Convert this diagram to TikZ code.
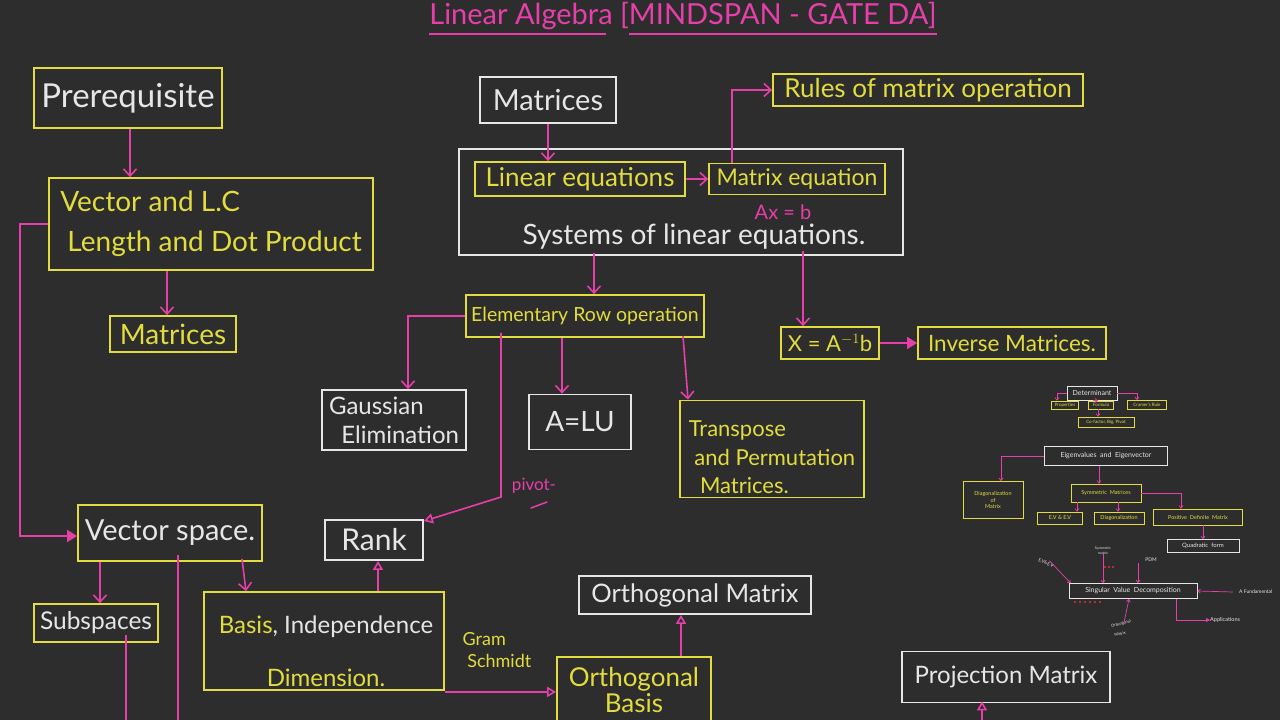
\documentclass[tikz,border=0pt]{standalone}
\usepackage{fontspec}
\setmainfont{Lato}
\usetikzlibrary{arrows.meta}
\definecolor{bg}{HTML}{2D2D2D}
\definecolor{ylw}{HTML}{E2DC3E}
\definecolor{pnk}{HTML}{E63FAA}
\definecolor{wht}{HTML}{E6E6E6}
\definecolor{rdd}{HTML}{E8302E}
\newcommand{\fz}[1]{\fontsize{#1}{\fpeval{#1*1.2}}\selectfont}
\tikzset{
  ybox/.style={draw=ylw,line width=1.8pt,inner sep=0pt,text=ylw},
  wbox/.style={draw=wht,line width=1.8pt,inner sep=0pt,text=wht},
  sybox/.style={draw=ylw,line width=0.7pt,inner sep=0pt,text=ylw},
  swbox/.style={draw=wht,line width=0.7pt,inner sep=0pt,text=wht},
  con/.style={draw=pnk,line width=1.6pt},
  va/.style={con,-{Straight Barb[length=7pt,width=13pt]}},
  ta/.style={con,-{Triangle[open,length=9pt,width=10pt]}},
  fa/.style={con,-{Triangle[length=10pt,width=12pt]}},
  sa/.style={draw=pnk,line width=0.7pt,-{Straight Barb[length=2.5pt,width=4pt]}},
  sfa/.style={draw=pnk,line width=0.7pt,-{Triangle[length=4pt,width=4pt]}},
  lbl/.style={inner sep=0pt},
}
\begin{document}
\begin{tikzpicture}[x=1pt,y=-1pt]
\fill[bg] (0,0) rectangle (1280,720);
\useasboundingbox (0,0) rectangle (1280,720);
\clip (0,0) rectangle (1280,720);

% title
\node[lbl,text=pnk,font=\fz{29}] (title) at (683,16) {Linear Algebra [MINDSPAN - GATE DA]};
\draw[con] (title.south west) ++(0,4) coordinate (u1) -- ++(177,0) coordinate (u2);
\draw[con] (u2) ++(23,0) -- ([yshift=-4]title.south east);

% left column
\node[ybox,text=wht,minimum width=188pt,minimum height=60pt,font=\fz{33}] (pre) at (128,98) {Prerequisite};
\node[ybox,minimum width=324pt,minimum height=92pt,align=left,font=\fz{28}] (vec) at (211,224) {Vector and L.C\\[6pt]\ Length and Dot Product};
\node[ybox,minimum width=126pt,minimum height=36pt,font=\fz{28}] (mat1) at (173,334) {Matrices};
\node[ybox,text=wht,minimum width=184pt,minimum height=56pt,font=\fz{29}] (vs) at (170,533) {Vector space.};
\node[ybox,text=wht,minimum width=124pt,minimum height=38pt,font=\fz{24.5}] (sub) at (96,623) {Subspaces};
\node[ybox,minimum width=240pt,minimum height=98pt] (basis) at (324,641) {};
\node[lbl,text=wht,align=center,font=\fz{24}] (basistxt) at (326,651) {\textcolor{ylw}{Basis}, Independence\\[24pt]\textcolor{ylw}{Dimension.}};
\node[wbox,minimum width=98pt,minimum height=40pt,font=\fz{30}] (rank) at (374,540) {Rank};
\node[ybox,minimum width=154pt,minimum height=74pt] (ob) at (634,694) {};
\node[lbl,text=ylw,align=center,font=\fz{26}] (obtxt) at (634,690) {Orthogonal\\[-6pt]Basis};
\node[wbox,minimum width=232pt,minimum height=38pt,font=\fz{25.5}] (om) at (695,595) {Orthogonal Matrix};

% middle top
\node[wbox,minimum width=136pt,minimum height=46pt,font=\fz{29}] (mat2) at (548,100) {Matrices};
\node[wbox,minimum width=444pt,minimum height=106pt] (sys) at (681,202) {};
\node[lbl,text=wht,font=\fz{28}] (systxt) at (694,237) {Systems of linear equations.};
\node[ybox,minimum width=210pt,minimum height=34pt,font=\fz{26}] (lin) at (580,179) {Linear equations};
\node[ybox,minimum width=176pt,minimum height=31pt,font=\fz{23}] (meq) at (797,179) {Matrix equation};
\node[lbl,text=pnk,font=\fz{20}] (axb) at (783,212) {Ax = b};
\node[ybox,minimum width=310pt,minimum height=32pt,font=\fz{26}] (rules) at (928,90) {Rules of matrix operation};

% elementary row operation
\node[ybox,minimum width=238pt,minimum height=42pt,font=\fz{19.5}] (ero) at (585,316) {Elementary Row operation};
\node[wbox,minimum width=144pt,minimum height=60pt,align=left,font=\fz{24}] (gauss) at (394,420) {Gaussian\\\ \ Elimination};
\node[wbox,minimum width=102pt,minimum height=55pt,font=\fz{28}] (lu) at (580,422) {A=LU};
\node[ybox,minimum width=184pt,minimum height=97pt] (tp) at (772,449) {};
\node[lbl,text=ylw,align=left,font=\fz{22}] (tptxt) at (772,457) {Transpose\\[3pt]\ and Permutation\\[1pt]\ \ Matrices.};
\node[ybox,minimum width=98pt,minimum height=32pt,font=\fz{22}] (xab) at (830,343) {X = A$^{-1}$b};
\node[ybox,minimum width=188pt,minimum height=32pt,font=\fz{22.5}] (inv) at (1012,343) {Inverse Matrices.};
\node[wbox,minimum width=208pt,minimum height=51pt,font=\fz{24}] (proj) at (1006,677) {Projection Matrix};

\node[lbl,text=pnk,font=\fz{17}] (pivot) at (534,486) {pivot-};
\node[lbl,text=ylw,align=left,font=\fz{18}] (gram) at (497,650) {Gram\\\ Schmidt};

% connectors
\draw[va] ([xshift=2]pre.south) -- ([xshift=2]pre.south |- vec.north);
\draw[va] ([xshift=-44]vec.south) -- ([xshift=-44]vec.south |- mat1.north);
\draw[fa] (vec.west) -- ++(-28,0) |- ([yshift=-3]vs.west);
\draw[va] ([xshift=-70]vs.south) -- ([xshift=-70]vs.south |- sub.north);
\coordinate (b1) at (126,725);
\coordinate (b2) at (178,725);
\draw[con] ([xshift=30,yshift=8]sub.south) -- (b1);
\draw[con] ([xshift=8,yshift=7]vs.south) -- (b2);
\draw[va] ([xshift=72,yshift=3]vs.south) -- ([xshift=-78]basis.north);
\draw[ta] ([xshift=54]basis.north) -- ([xshift=54]basis.north |- rank.south);
\draw[ta] ([yshift=-1]basis.south east) -- ([yshift=-1]basis.south east -| ob.west);
\draw[ta] ([xshift=47]ob.north) -- ([xshift=47]ob.north |- om.south);

\draw[va] (mat2.south) -- (mat2.south |- lin.north);
\draw[va] (lin.east) -- (meq.west);
\draw[va] ([xshift=-65]meq.north) |- (rules.west);
\draw[va] ([xshift=-87,yshift=3]sys.south) -- ([xshift=-87]sys.south |- ero.north);
\draw[va] (ero.west) -| ([xshift=14]gauss.north);
\draw[va] ([xshift=-23]ero.south) -- ([xshift=-23]ero.south |- lu.north);
\draw[va] ([xshift=98,yshift=2]ero.south) -- ([xshift=-84]tp.north);
\coordinate (p1) at (501,497);
\draw[ta] ([xshift=-84,yshift=5]ero.south) -- (p1) -- ([yshift=-2]rank.north east);
\draw[pnk,line width=1.5pt,line cap=round] (531,508) -- (547,502);
\draw[va] ([xshift=122,yshift=5]sys.south) -- ([xshift=-27]xab.north);
\draw[fa] (xab.east) -- (inv.west);
\coordinate (pb) at (982,725);
\draw[ta] (pb) -- ([xshift=-24,yshift=2]proj.south);

% small cluster: determinant
\node[swbox,minimum width=50pt,minimum height=14pt,font=\fz{7}] (det) at (1092,393) {Determinant};
\node[sybox,minimum width=27pt,minimum height=8pt,font=\fz{4.5}] (prop) at (1065,405) {Properties};
\node[sybox,minimum width=25pt,minimum height=8pt,font=\fz{4.5}] (form) at (1101,405) {Formula};
\node[sybox,minimum width=39pt,minimum height=9pt,font=\fz{4.5}] (cram) at (1147,405) {Cramer's Rule};
\node[sybox,minimum width=56pt,minimum height=10pt,font=\fz{4.5}] (cof) at (1106,422) {Co-factor, Big, Pivot};
\draw[sa] (det.west) -| ([xshift=-8]prop.north);
\draw[sa] (det.east) -| ([xshift=-10]cram.north);
\draw[sa] ([xshift=1]det.south) -- ([xshift=-3]form.north);
\draw[sa] ([xshift=-3]form.south) -- ([xshift=-3]form.south |- cof.north);

% eigen
\node[swbox,minimum width=123pt,minimum height=19pt,font=\fz{7}] (eig) at (1106,456) {Eigenvalues \ and \ Eigenvector};
\node[sybox,minimum width=60pt,minimum height=37pt,align=center,font=\fz{5.5}] (diag1) at (993,500) {Diagonalization\\of\\Matrix};
\node[sybox,minimum width=70pt,minimum height=18pt,font=\fz{5.5}] (sym) at (1106,493) {Symmetric \ Matrices};
\node[sybox,minimum width=45pt,minimum height=12pt,font=\fz{5.5}] (evev) at (1060,518) {E.V \& E.V};
\node[sybox,minimum width=50pt,minimum height=12pt,font=\fz{5.5}] (diag2) at (1119,518) {Diagonalization};
\node[sybox,minimum width=89pt,minimum height=16pt,font=\fz{5.5}] (pdm) at (1198,517) {Positive \ Definite \ Matrix};
\node[swbox,minimum width=72pt,minimum height=13pt,font=\fz{6}] (quad) at (1203,546) {Quadratic \ form};
\node[swbox,minimum width=128pt,minimum height=15pt,font=\fz{7}] (svd) at (1133,591) {Singular \ Value \ Decomposition};
\draw[sa] (eig.west) -| ([xshift=8]diag1.north);
\draw[sa] ([xshift=-7]eig.south) -- ([xshift=-7]eig.south |- sym.north);
\draw[sa] ([xshift=-29]sym.south) -- ([xshift=-29]sym.south |- evev.north);
\draw[sa] ([xshift=12]sym.south) -- ([xshift=12]sym.south |- diag2.north);
\draw[sa] (sym.east) -| ([xshift=-17]pdm.north);
\draw[sa] ([xshift=5]pdm.south) -- ([xshift=5]pdm.south |- quad.north);

% svd inputs
\node[lbl,text=wht,rotate=-20,font=\fz{4.5}] (evl) at (1046,563) {E.V\&E.V};
\node[lbl,text=wht,align=center,font=\fz{3.5}] (syml) at (1103,551) {Symmetric\\[0.5pt]matrix};
\node[lbl,text=wht,font=\fz{5}] (pdml) at (1151,560) {PDM};
\node[lbl,text=wht,anchor=west,font=\fz{5}] (afl) at (1239,592) {A Fundamental};
\node[lbl,text=wht,rotate=15,font=\fz{4}] (oml) at (1121,624) {Orthogonal};
\node[lbl,text=wht,rotate=15,font=\fz{4}] (oml2) at (1120,634) {Matrix};
\node[lbl,text=wht,anchor=west,font=\fz{5.5}] (appl) at (1210,620) {Applications};
\draw[sa] ([xshift=4,yshift=4]evl.south) -- ([xshift=2]svd.north west);
\draw[sa] ([yshift=1]syml.south) -- (syml.south |- svd.north);
\draw[sa] ([xshift=-13,yshift=-1]pdml.south) -- ([xshift=-13]pdml.south |- svd.north);
\draw[sa] ([xshift=-6]afl.west) -- (svd.east);
\draw[sa] ([xshift=3,yshift=-3]oml.north) -- ([xshift=-4]svd.south);
\draw[sfa] ([xshift=43]svd.south) |- (appl.west);
\foreach \i in {0,1,2} \fill[rdd] (1105+\i*4,567) circle (1.1pt);
\foreach \i in {0,...,5} \fill[rdd] (1075+\i*5,602) circle (1.1pt);
\end{tikzpicture}
\end{document}
